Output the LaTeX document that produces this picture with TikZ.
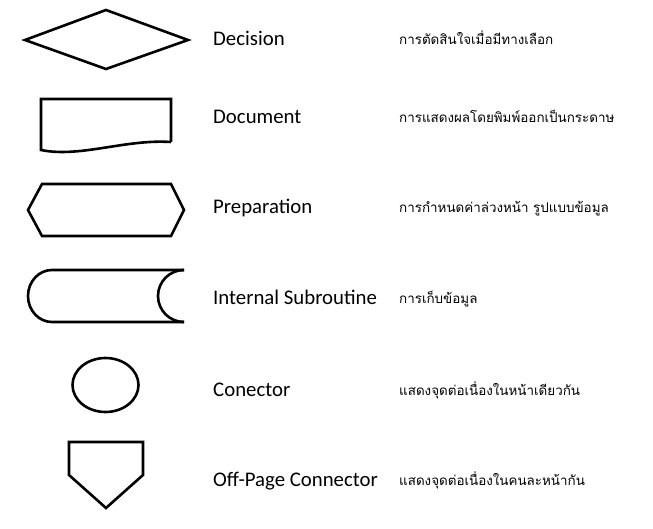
\documentclass[tikz,border=0pt]{standalone}
\usepackage{fontspec}
\setmainfont{Carlito}
\newfontfamily\thaifont[Script=Thai]{Loma}
\usetikzlibrary{positioning}

\begin{document}
\begin{tikzpicture}[
  x=1pt,y=-1pt,
  shp/.style={draw,line width=2.6pt,line join=miter},
  eng/.style={anchor=base west,inner sep=0pt,font=\fontsize{20.8}{24}\selectfont},
  thai/.style={anchor=base west,inner sep=0pt,font=\thaifont\fontsize{13.4}{16}\selectfont}
]
  \useasboundingbox (0,0) rectangle (653,529);
  % symbols
  \draw[shp] (25,40) -- (106,10) -- (188,40) -- (106,69) -- cycle;
  \draw[shp] (171,142) -- (171,99) -- (41,99) -- (41,150)
    .. controls (80,158) and (125,139) .. (171,142);
  \draw[shp] (42,184) -- (171,184) -- (184,210) -- (171,236) -- (42,236)
    -- (28,210) -- cycle;
  \draw[shp] (184,270) -- (52,270) arc[start angle=270,end angle=90,
    x radius=24,y radius=26] -- (184,322);
  \draw[shp] (184,270) arc[start angle=270,end angle=90,radius=26];
  \draw[shp] (105.5,385) ellipse[x radius=33,y radius=27];
  \draw[shp] (69,442) -- (143,442) -- (143,475) -- (106,508) -- (69,475) -- cycle;
  % names
  \node[eng] (dec) at (213,46) {Decision};
  \node[eng] (doc) at (213,124) {Document};
  \node[eng] (prep) at (213,214) {Preparation};
  \node[eng] (sub) at (213,305) {Internal Subroutine};
  \node[eng] (con) at (213,396) {Conector};
  \node[eng] (off) at (213,486) {Off-Page Connector};
  % meanings
  \node[thai] (decth) at (399,45) {การตัดสินใจเมื่อมีทางเลือก};
  \node[thai] (docth) at (399,123) {การแสดงผลโดยพิมพ์ออกเป็นกระดาษ};
  \node[thai] (prepth) at (399,213) {การกำหนดค่าล่วงหน้า รูปแบบข้อมูล};
  \node[thai] (subth) at (399,304) {การเก็บข้อมูล};
  \node[thai] (conth) at (399,395) {แสดงจุดต่อเนื่องในหน้าเดียวกัน};
  \node[thai] (offth) at (399,485) {แสดงจุดต่อเนื่องในคนละหน้ากัน};
\end{tikzpicture}
\end{document}
